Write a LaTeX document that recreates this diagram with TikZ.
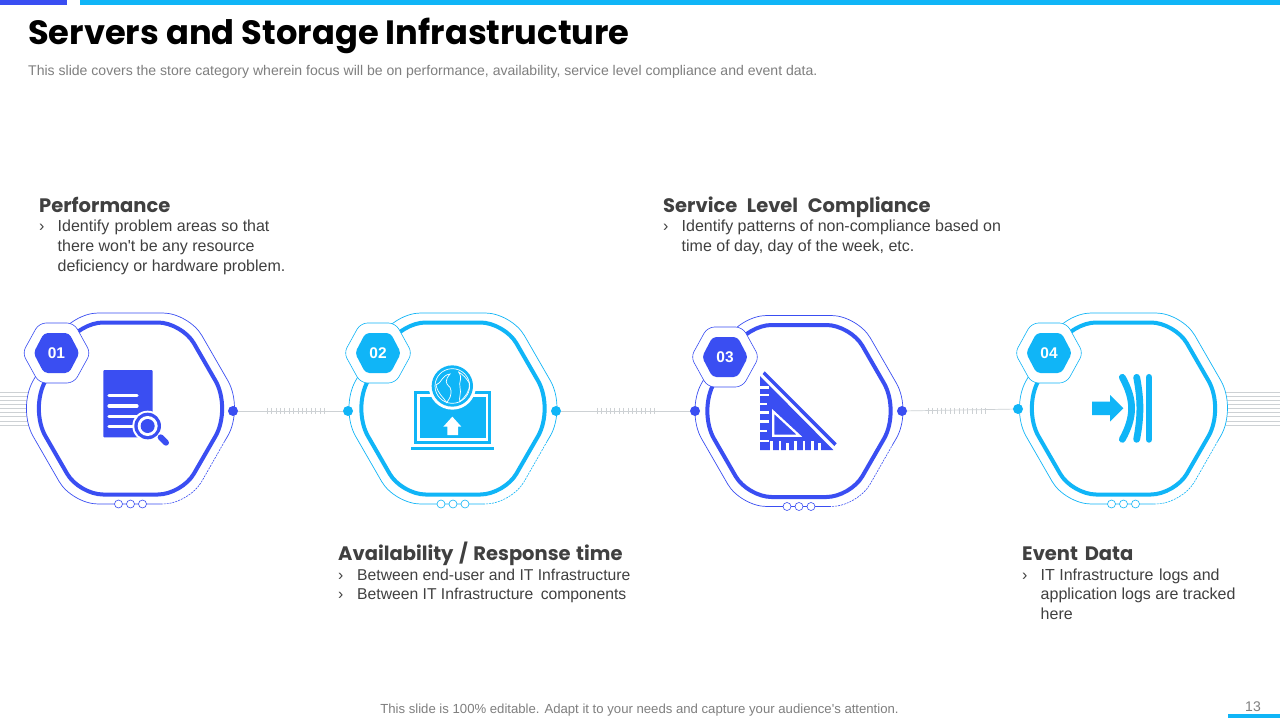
\documentclass[tikz,border=0pt]{standalone}
\usepackage{fontspec}
\setmainfont{Liberation Sans}[Ligatures=TeXOff]
\newfontfamily\headfont{Poppins}
\definecolor{bluec}{HTML}{3A4EF2}
\definecolor{cyanc}{HTML}{10B5F7}
\definecolor{bodyc}{HTML}{404040}
\definecolor{subc}{HTML}{7F7F7F}
\definecolor{wire}{HTML}{CDD1D4}
\tikzset{
  txt/.style={inner sep=0pt,anchor=base west,text=bodyc,font=\fontsize{16}{19}\selectfont},
  txtn/.style={inner sep=0pt,anchor=base west,text=bodyc,font=\fontsize{15.7}{19}\selectfont},
  head/.style={inner sep=0pt,anchor=base west,text=bodyc,font=\headfont\bfseries\fontsize{19.5}{24}\selectfont},
  dotn/.style={circle,inner sep=0pt,minimum size=10pt,fill=#1},
  wireline/.style={draw=wire,line width=.7pt},
  tickline/.style={draw=wire,line width=.6pt},
  zc/.style={x=0.33333pt,y=-0.33333pt},
}
% half width, half height, corner run, radius at top/bottom corners, radius at side vertices
\newcommand{\hexpath}[5]{%
  (0,-#2) [rounded corners=#4] -- (#3,-#2) [rounded corners=#5] -- (#1,0) [rounded corners=#4] -- (#3,#2) -- (-#3,#2) [rounded corners=#5] -- (-#1,0) [rounded corners=#4] -- (-#3,-#2) -- (0,-#2)}
\newcommand{\hexunit}[3]{% cx, cy, colour
\begin{scope}[shift={(#1,#2)}]
  \fill[white] \hexpath{113.4}{95.5}{58.4}{26pt}{32pt};
  \draw[#3,line width=.7pt]
    (30,95.5) [rounded corners=26pt] -- (-58.4,95.5) [rounded corners=32pt] -- (-113.4,0) [rounded corners=26pt] -- (-58.4,-95.5) -- (58.4,-95.5) [rounded corners=32pt] -- (113.4,0) [rounded corners=26pt] -- (94,33);
  \draw[#3,line width=.6pt,dash pattern=on 2pt off 1pt,rounded corners=26pt]
    (94,33) -- (58.4,95.5) -- (30,95.5);
  \draw[#3,line width=4pt] \hexpath{101}{86}{51.4}{24pt}{32pt};
  \foreach \cxo in {-12,0,12}{
    \draw[#3,line width=.6pt,fill=white] (\cxo,95.5) circle (4);
  }
\end{scope}
}
\newcommand{\badge}[5]{% name, cx, cy, colour, text
\begin{scope}[shift={(#2,#3)}]
  \draw[#4,line width=.6pt,fill=white] \hexpath{34}{30}{17.5}{7pt}{6pt};
  \fill[#4] \hexpath{23}{20}{12.5}{4pt}{4pt};
\end{scope}
\node[inner sep=0pt,text=white,font=\bfseries\fontsize{15.5}{16}\selectfont] (#1) at (#2,#3) {#5};
}
\newcommand{\ticks}[2]{% x start, y
  \foreach \tk in {0,...,13}{
    \draw[tickline] ({#1+\tk*4.4},#2-3.2) -- ({#1+\tk*4.4},#2+3.2);
  }
}
\begin{document}
\begin{tikzpicture}[x=1pt,y=-1pt]
\useasboundingbox (0,0) rectangle (1280,720);
\fill[white] (0,0) rectangle (1280,720);
% top bars and footer bar
\fill[bluec] (0,0) rectangle (67,5);
\fill[cyanc] (80,0) rectangle (1280,5);
\fill[cyanc] (1228,714) rectangle (1280,718);
% title
\node[inner sep=0pt,anchor=base west,text=black,font=\headfont\bfseries\fontsize{33.7}{40}\selectfont] (title) at (28,44) {Servers and Storage Infrastructure};
\node[inner sep=0pt,anchor=base west,text=subc,font=\fontsize{14.05}{16}\selectfont] (sub) at (28,75) {This slide covers the store category wherein focus will be on performance, availability, service level compliance and event data.};
% side wire bundles
\foreach \yy in {392,396.1,400.2,404.4,408.5,412.6,416.8,420.9,425}{
  \draw[wireline] (0,\yy) -- (40,\yy);
  \draw[wireline] (1210,\yy) -- (1280,\yy);
}
% hexagons
\hexunit{130.5}{408.5}{bluec}
\hexunit{453}{408.5}{cyanc}
\hexunit{799}{411}{bluec}
\hexunit{1123.5}{408.5}{cyanc}
% dots
\node[dotn=bluec] (d1r) at (233,411) {};
\node[dotn=cyanc] (d2l) at (348,411) {};
\node[dotn=cyanc] (d2r) at (556,411) {};
\node[dotn=bluec] (d3l) at (695,411) {};
\node[dotn=bluec] (d3r) at (902,411) {};
\node[dotn=cyanc] (d4l) at (1018,409) {};
% connectors
\draw[wireline] (d1r) -- (d2l);
\draw[wireline] (d2r) -- (d3l);
\draw[wireline] (d3r) -- (d4l);
\ticks{267}{411}
\ticks{597}{411}
\ticks{928}{411}
% badges
\badge{b1}{56.5}{353}{bluec}{01}
\badge{b2}{378}{353}{cyanc}{02}
\badge{b3}{725}{357}{bluec}{03}
\badge{b4}{1049}{353}{cyanc}{04}
% icon 1: document with magnifier
\begin{scope}[shift={(0,300)},zc]
  \fill[bluec,rounded corners=1pt] (310,210) rectangle (458,412);
  \foreach \ly in {287,318,350,380}{
    \draw[white,line width=3.2pt,line cap=round] (327,\ly) -- (411,\ly);
  }
  \fill[white] (443,378) circle (46);
  \fill[bluec] (443,378) circle (40);
  \fill[white] (443,378) circle (30);
  \fill[bluec] (443,378) circle (21);
  \draw[bluec,line width=6pt,line cap=round] (482,412) -- (498,428);
\end{scope}
% icon 2: laptop and globe
\begin{scope}[shift={(330,300)},zc]
  \draw[cyanc,line width=3pt] (257,277) rectangle (478,428);
  \fill[cyanc] (270,290) rectangle (467,415);
  \fill[cyanc] (243,442) rectangle (492,450);
  \fill[white] (367,258) circle (71);
  \fill[cyanc] (367,258) circle (62);
  \draw[white,line width=.7pt] (367,258) circle (52);
  \draw[white,line width=.7pt] (318,255) .. controls (335,250) and (335,225) .. (360,222) .. controls (345,240) and (345,250) .. (360,262) .. controls (370,285) and (355,300) .. (350,308) .. controls (340,290) and (325,285) .. (318,255);
  \draw[white,line width=.7pt] (385,215) .. controls (400,235) and (385,245) .. (390,262) .. controls (395,280) and (385,295) .. (390,305) .. controls (405,290) and (420,275) .. (418,250) .. controls (410,235) and (400,225) .. (385,215);
  \fill[white] (367,350) -- (394,380) -- (384,380) -- (384,405) -- (352,405) -- (352,380) -- (340,380) -- cycle;
\end{scope}
% icon 3: set square
\begin{scope}[shift={(680,300)},zc]
  \fill[bluec] (240,228) -- (240,450) -- (460,450) -- cycle;
  \draw[white,line width=2pt] (244,226) -- (468,448);
  \fill[bluec] (254,214) -- (470,430) -- (463,438) -- (248,222) -- cycle;
  \fill[white] (460,450) -- (470,440) -- (470,451) -- cycle;
  \foreach \ty/\tl in {262/268,285/268,312/260,338/268,365/268,393/260,423/268}{
    \draw[white,line width=2.6pt] (238,\ty) -- (\tl,\ty);
  }
  \foreach \tx/\tl in {275/422,300/422,322/430,347/422,372/422,397/422,418/430}{
    \draw[white,line width=2.6pt] (\tx,452) -- (\tx,\tl);
  }
  \draw[white,line width=2.2pt] (280,335) -- (280,407) -- (358,407) -- cycle;
\end{scope}
% icon 4: arrow and arcs
\begin{scope}[shift={(1000,300)},zc]
  \fill[cyanc] (276,305) -- (330,305) -- (330,285) -- (370,325) -- (330,365) -- (330,345) -- (276,345) -- cycle;
  \draw[cyanc,line width=6.8pt,line cap=round] (367,232) .. controls (404,300) and (404,350) .. (367,418);
  \draw[cyanc,line width=6.8pt,line cap=round] (410,232) .. controls (423,300) and (423,350) .. (410,418);
  \draw[cyanc,line width=6.8pt,line cap=round] (447,232) -- (447,418);
\end{scope}
% text blocks
\node[head] (h1) at (39,212) {Performance};
\node[txt] (t1m) at (39,231.5) {›};
\node[txt] (t1a) at (57.5,231.5) {Identify\hspace{1pt} problem areas so that};
\node[txt] (t1b) at (57.5,251) {there won't be any resource};
\node[txt] (t1c) at (57.5,271) {deficiency or hardware problem.};
\node[head] (h3) at (663,212) {Service\hspace{5.5pt} Level\hspace{5.5pt} Compliance};
\node[txt] (t3m) at (663,231.5) {›};
\node[txt] (t3a) at (681.5,231.5) {Identify patterns of non-compliance based on};
\node[txt] (t3b) at (681.5,251) {time of day, day of the week, etc.};
\node[head] (h2) at (338,560) {Availability\hspace{1.4pt} /\hspace{1.4pt} Response\hspace{1.4pt} time};
\node[txtn] (t2m) at (338,580) {›};
\node[txtn] (t2a) at (357,580) {Between end-user and IT Infrastructure};
\node[txtn] (t2n) at (338,599) {›};
\node[txtn] (t2b) at (357,599) {Between IT Infrastructure\hspace{3pt} components};
\node[head] (h4) at (1022,560) {Event\hspace{2.6pt} Data};
\node[txt] (t4m) at (1022,580) {›};
\node[txt] (t4a) at (1040.5,580) {IT Infrastructure\hspace{1pt} logs and};
\node[txt] (t4b) at (1040.5,599) {application logs are tracked};
\node[txt] (t4c) at (1040.5,619) {here};
% footer
\node[inner sep=0pt,text=subc,font=\fontsize{13.15}{15}\selectfont] (foot) at (639.5,710) {This slide is 100\% editable. Adapt it to your needs and capture your audience's attention.};
\node[inner sep=0pt,text=subc,font=\fontsize{14}{16}\selectfont] (pg) at (1253,707) {13};
\end{tikzpicture}
\end{document}
